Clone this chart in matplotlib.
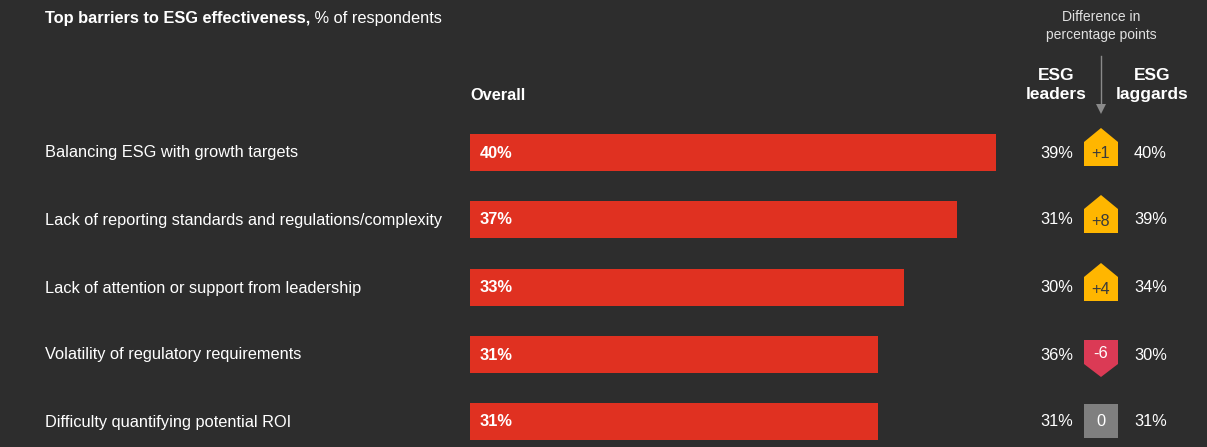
import matplotlib
matplotlib.use("Agg")
import matplotlib.pyplot as plt
from matplotlib.patches import Polygon

plt.rcParams['font.family'] = ['Liberation Sans', 'DejaVu Sans']

categories = ["Balancing ESG with growth targets",
              "Lack of reporting standards and regulations/complexity",
              "Lack of attention or support from leadership",
              "Volatility of regulatory requirements",
              "Difficulty quantifying potential ROI"]
overall = [40, 37, 33, 31, 31]
leaders = [39, 31, 30, 36, 31]
laggards = [40, 39, 34, 30, 31]
diff = [1, 8, 4, -6, 0]

BG = "#2d2d2d"
FS = 11.8
fig = plt.figure(figsize=(12.07, 4.47), dpi=100, facecolor=BG)
ax = fig.add_axes([0, 0, 1, 1])
ax.set_facecolor(BG)
ax.set_xlim(0, 1207)
ax.set_ylim(447, 0)
ax.axis('off')

x0 = 470
scale = 526 / 40
ys = [152, 219, 287, 354, 421]

ax.barh(ys, [v * scale for v in overall], left=x0, height=37, color="#e03121")
for y, c, v, l, g, d in zip(ys, categories, overall, leaders, laggards, diff):
    ax.text(45, y + 1, c, color="white", fontsize=FS, va="center")
    ax.text(x0 + 10, y + 1, f"{v}%", color="white", fontsize=FS, fontweight="bold", va="center")
    ax.text(1073, y + 1, f"{l}%", color="white", fontsize=FS, va="center", ha="right")
    ax.text(1134, y + 1, f"{g}%", color="white", fontsize=FS, va="center", ha="left")
    xl, xr, xm = 1084, 1118, 1101
    if d > 0:
        pts = [(xl, y - 10), (xm, y - 24), (xr, y - 10), (xr, y + 14), (xl, y + 14)]
        col, tc, lab = "#ffb600", "#3a3a3a", f"+{d}"
        ty = y + 2
    elif d < 0:
        pts = [(xl, y - 14), (xr, y - 14), (xr, y + 10), (xm, y + 23), (xl, y + 10)]
        col, tc, lab = "#db3a55", "white", f"{d}"
        ty = y
    else:
        pts = [(xl, y - 17), (xr, y - 17), (xr, y + 17), (xl, y + 17)]
        col, tc, lab = "#7f7f7f", "white", "0"
        ty = y + 1
    ax.add_patch(Polygon(pts, closed=True, color=col, lw=0))
    ax.text(xm, ty, lab, color=tc, fontsize=FS, va="center", ha="center")

t = ax.text(45, 18, "Top barriers to ESG effectiveness,", color="white", fontsize=FS,
            fontweight="bold", va="center")
ax.annotate(" % of respondents", xy=(1, 0.5), xycoords=t, color="white", fontsize=FS,
            va="center", ha="left")
ax.text(x0, 95, "Overall", color="white", fontsize=FS, fontweight="bold", va="center")
ax.text(1056, 85, "ESG\nleaders", color="white", fontsize=12.5, fontweight="bold",
        va="center", ha="center", linespacing=1.3)
ax.text(1152, 85, "ESG\nlaggards", color="white", fontsize=12.5, fontweight="bold",
        va="center", ha="center", linespacing=1.3)
ax.text(1101, 26, "Difference in\npercentage points", color="#e0e0e0", fontsize=10,
        va="center", ha="center", linespacing=1.3)
ax.plot([1101, 1101], [56, 106], color="#8a8a8a", lw=1)
ax.add_patch(Polygon([(1096, 104), (1106, 104), (1101, 114)], closed=True, color="#8a8a8a", lw=0))

fig.savefig("out.png", dpi=100, facecolor=BG)
